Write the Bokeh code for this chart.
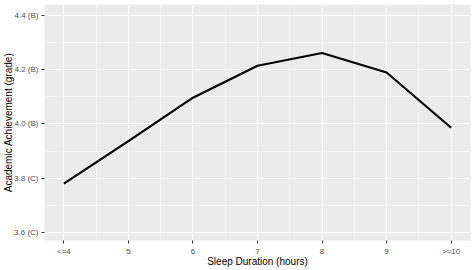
from bokeh.plotting import figure
from bokeh.models import FixedTicker, Range1d
from bokeh.embed import file_html
from bokeh.resources import INLINE

x_vals = [4, 5, 6, 7, 8, 9, 10]
x_labels = ["<=4", "5", "6", "7", "8", "9", ">=10"]
achievement = [3.78, 3.937, 4.097, 4.215, 4.262, 4.19, 3.986]
y_ticks = [3.6, 3.8, 4.0, 4.2, 4.4]
y_labels = ["3.6 (C)", "3.8 (C)", "4.0 (B)", "4.2 (B)", "4.4 (B)"]

p = figure(width=474, height=270, output_backend="svg", toolbar_location=None,
           x_range=Range1d(3.7, 10.3), y_range=Range1d(3.57, 4.441))
p.min_border_left = 44
p.min_border_right = 4
p.min_border_top = 4
p.min_border_bottom = 30
p.background_fill_color = "#EBEBEB"
p.border_fill_color = "white"
p.outline_line_color = None

p.line(x_vals, achievement, line_color="black", line_width=2.2)

p.xaxis.ticker = FixedTicker(ticks=x_vals, minor_ticks=[v + 0.5 for v in x_vals[:-1]])
p.xaxis.major_label_overrides = {v: l for v, l in zip(x_vals, x_labels)}
p.yaxis.ticker = FixedTicker(ticks=y_ticks, minor_ticks=[3.7, 3.9, 4.1, 4.3])
p.yaxis.major_label_overrides = {v: l for v, l in zip(y_ticks, y_labels)}

for ax in (p.xaxis, p.yaxis):
    ax.axis_line_color = None
    ax.major_tick_line_color = "#333333"
    ax.major_tick_in = 0
    ax.major_tick_out = 3
    ax.minor_tick_line_color = None
    ax.major_label_text_font = "Liberation Sans"
    ax.major_label_text_font_size = "8px"
    ax.major_label_text_color = "#4D4D4D"
    ax.axis_label_text_font = "Liberation Sans"
    ax.axis_label_text_font_size = "10px"
    ax.axis_label_text_font_style = "normal"
    ax.axis_label_text_color = "black"
    ax.major_label_standoff = 2

p.yaxis.axis_label_standoff = -3
p.xaxis.axis_label_standoff = -3
p.xaxis.axis_label = "Sleep Duration (hours)"
p.yaxis.axis_label = "Academic Achievement (grade)"

for g in (p.xgrid, p.ygrid):
    g.grid_line_color = "white"
    g.grid_line_width = 1.1
    g.minor_grid_line_color = "white"
    g.minor_grid_line_width = 0.5
p.xgrid.ticker = p.xaxis.ticker
p.ygrid.ticker = p.yaxis.ticker

open("out.html", "w").write(file_html(p, INLINE))
